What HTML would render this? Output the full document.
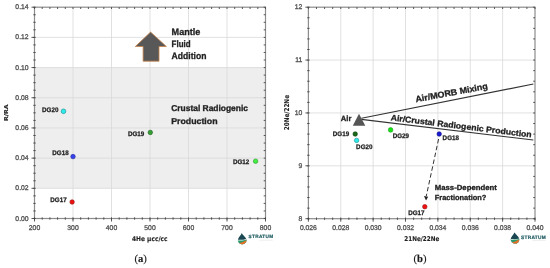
<!DOCTYPE html>
<html><head><meta charset="utf-8"><style>
html,body{margin:0;padding:0;background:#fff;width:550px;height:268px;overflow:hidden}
svg{display:block;text-rendering:geometricPrecision}
.tl{font-family:"Liberation Sans",Arial,sans-serif;font-size:6.8px;fill:#555;stroke:#555;stroke-width:0.3px}
.at{font-family:"Liberation Sans",Arial,sans-serif;font-size:6.8px;font-weight:bold;fill:#222;stroke:#222;stroke-width:0.2px}
.at2{font-family:"DejaVu Sans","Liberation Sans",sans-serif;font-size:6.6px;font-weight:bold;fill:#222;stroke:#222;stroke-width:0.1px}
.dg{font-family:"Liberation Sans",Arial,sans-serif;font-size:6.6px;font-weight:bold;fill:#222;stroke:#222;stroke-width:0.25px}
.an{font-family:"Liberation Sans",Arial,sans-serif;font-weight:bold;fill:#222;stroke:#222;stroke-width:0.3px}
.cap{font-family:"Liberation Serif","Times New Roman",serif;font-size:10.6px;fill:#1a1a1a;stroke:#1a1a1a;stroke-width:0.15px}
</style></head><body>
<svg width="550" height="268" viewBox="0 0 550 268">
<rect x="34.5" y="67.57" width="231" height="120.74" fill="#eeeeee"/>
<line x1="73" y1="7.2" x2="73" y2="218.5" stroke="#d9d9d9" stroke-width="0.8"/>
<line x1="111.5" y1="7.2" x2="111.5" y2="218.5" stroke="#d9d9d9" stroke-width="0.8"/>
<line x1="150" y1="7.2" x2="150" y2="218.5" stroke="#d9d9d9" stroke-width="0.8"/>
<line x1="188.5" y1="7.2" x2="188.5" y2="218.5" stroke="#d9d9d9" stroke-width="0.8"/>
<line x1="227" y1="7.2" x2="227" y2="218.5" stroke="#d9d9d9" stroke-width="0.8"/>
<line x1="34.5" y1="188.31" x2="265.5" y2="188.31" stroke="#d9d9d9" stroke-width="0.8"/>
<line x1="34.5" y1="158.13" x2="265.5" y2="158.13" stroke="#d9d9d9" stroke-width="0.8"/>
<line x1="34.5" y1="127.94" x2="265.5" y2="127.94" stroke="#d9d9d9" stroke-width="0.8"/>
<line x1="34.5" y1="97.76" x2="265.5" y2="97.76" stroke="#d9d9d9" stroke-width="0.8"/>
<line x1="34.5" y1="67.57" x2="265.5" y2="67.57" stroke="#d9d9d9" stroke-width="0.8"/>
<line x1="34.5" y1="37.39" x2="265.5" y2="37.39" stroke="#d9d9d9" stroke-width="0.8"/>
<rect x="34.5" y="7.2" width="231" height="211.3" fill="none" stroke="#8c8c8c" stroke-width="1.2"/>
<path d="M34.5 217.3v2.4M34.5 7.2v1.8M42.2 217.3v2.4M42.2 7.2v1.8M49.9 217.3v2.4M49.9 7.2v1.8M57.6 217.3v2.4M57.6 7.2v1.8M65.3 217.3v2.4M65.3 7.2v1.8M73 217.3v2.4M73 7.2v1.8M80.7 217.3v2.4M80.7 7.2v1.8M88.4 217.3v2.4M88.4 7.2v1.8M96.1 217.3v2.4M96.1 7.2v1.8M103.8 217.3v2.4M103.8 7.2v1.8M111.5 217.3v2.4M111.5 7.2v1.8M119.2 217.3v2.4M119.2 7.2v1.8M126.9 217.3v2.4M126.9 7.2v1.8M134.6 217.3v2.4M134.6 7.2v1.8M142.3 217.3v2.4M142.3 7.2v1.8M150 217.3v2.4M150 7.2v1.8M157.7 217.3v2.4M157.7 7.2v1.8M165.4 217.3v2.4M165.4 7.2v1.8M173.1 217.3v2.4M173.1 7.2v1.8M180.8 217.3v2.4M180.8 7.2v1.8M188.5 217.3v2.4M188.5 7.2v1.8M196.2 217.3v2.4M196.2 7.2v1.8M203.9 217.3v2.4M203.9 7.2v1.8M211.6 217.3v2.4M211.6 7.2v1.8M219.3 217.3v2.4M219.3 7.2v1.8M227 217.3v2.4M227 7.2v1.8M234.7 217.3v2.4M234.7 7.2v1.8M242.4 217.3v2.4M242.4 7.2v1.8M250.1 217.3v2.4M250.1 7.2v1.8M257.8 217.3v2.4M257.8 7.2v1.8M265.5 217.3v2.4M265.5 7.2v1.8M33.3 218.5h2.4M265.5 218.5h-1.8M33.3 210.95h2.4M265.5 210.95h-1.8M33.3 203.41h2.4M265.5 203.41h-1.8M33.3 195.86h2.4M265.5 195.86h-1.8M33.3 188.31h2.4M265.5 188.31h-1.8M33.3 180.77h2.4M265.5 180.77h-1.8M33.3 173.22h2.4M265.5 173.22h-1.8M33.3 165.68h2.4M265.5 165.68h-1.8M33.3 158.13h2.4M265.5 158.13h-1.8M33.3 150.58h2.4M265.5 150.58h-1.8M33.3 143.04h2.4M265.5 143.04h-1.8M33.3 135.49h2.4M265.5 135.49h-1.8M33.3 127.94h2.4M265.5 127.94h-1.8M33.3 120.4h2.4M265.5 120.4h-1.8M33.3 112.85h2.4M265.5 112.85h-1.8M33.3 105.3h2.4M265.5 105.3h-1.8M33.3 97.76h2.4M265.5 97.76h-1.8M33.3 90.21h2.4M265.5 90.21h-1.8M33.3 82.66h2.4M265.5 82.66h-1.8M33.3 75.12h2.4M265.5 75.12h-1.8M33.3 67.57h2.4M265.5 67.57h-1.8M33.3 60.03h2.4M265.5 60.03h-1.8M33.3 52.48h2.4M265.5 52.48h-1.8M33.3 44.93h2.4M265.5 44.93h-1.8M33.3 37.39h2.4M265.5 37.39h-1.8M33.3 29.84h2.4M265.5 29.84h-1.8M33.3 22.29h2.4M265.5 22.29h-1.8M33.3 14.75h2.4M265.5 14.75h-1.8M33.3 7.2h2.4M265.5 7.2h-1.8M73 218.5v3M111.5 218.5v3M150 218.5v3M188.5 218.5v3M227 218.5v3M34.5 218.5v3M265.5 218.5v3M34.5 188.31h-3M34.5 158.13h-3M34.5 127.94h-3M34.5 97.76h-3M34.5 67.57h-3M34.5 37.39h-3M34.5 7.2h-3M34.5 218.5h-3" stroke="#444" stroke-width="0.9" fill="none"/>
<line x1="340.77" y1="7.2" x2="340.77" y2="218.7" stroke="#d9d9d9" stroke-width="0.8"/>
<line x1="373.14" y1="7.2" x2="373.14" y2="218.7" stroke="#d9d9d9" stroke-width="0.8"/>
<line x1="405.51" y1="7.2" x2="405.51" y2="218.7" stroke="#d9d9d9" stroke-width="0.8"/>
<line x1="437.89" y1="7.2" x2="437.89" y2="218.7" stroke="#d9d9d9" stroke-width="0.8"/>
<line x1="470.26" y1="7.2" x2="470.26" y2="218.7" stroke="#d9d9d9" stroke-width="0.8"/>
<line x1="502.63" y1="7.2" x2="502.63" y2="218.7" stroke="#d9d9d9" stroke-width="0.8"/>
<line x1="308.4" y1="165.82" x2="535" y2="165.82" stroke="#d9d9d9" stroke-width="0.8"/>
<line x1="308.4" y1="112.95" x2="535" y2="112.95" stroke="#d9d9d9" stroke-width="0.8"/>
<line x1="308.4" y1="60.07" x2="535" y2="60.07" stroke="#d9d9d9" stroke-width="0.8"/>
<rect x="308.4" y="7.2" width="226.6" height="211.5" fill="none" stroke="#8c8c8c" stroke-width="1.2"/>
<path d="M308.4 217.5v2.4M308.4 7.2v1.8M316.49 217.5v2.4M316.49 7.2v1.8M324.59 217.5v2.4M324.59 7.2v1.8M332.68 217.5v2.4M332.68 7.2v1.8M340.77 217.5v2.4M340.77 7.2v1.8M348.86 217.5v2.4M348.86 7.2v1.8M356.96 217.5v2.4M356.96 7.2v1.8M365.05 217.5v2.4M365.05 7.2v1.8M373.14 217.5v2.4M373.14 7.2v1.8M381.24 217.5v2.4M381.24 7.2v1.8M389.33 217.5v2.4M389.33 7.2v1.8M397.42 217.5v2.4M397.42 7.2v1.8M405.51 217.5v2.4M405.51 7.2v1.8M413.61 217.5v2.4M413.61 7.2v1.8M421.7 217.5v2.4M421.7 7.2v1.8M429.79 217.5v2.4M429.79 7.2v1.8M437.89 217.5v2.4M437.89 7.2v1.8M445.98 217.5v2.4M445.98 7.2v1.8M454.07 217.5v2.4M454.07 7.2v1.8M462.16 217.5v2.4M462.16 7.2v1.8M470.26 217.5v2.4M470.26 7.2v1.8M478.35 217.5v2.4M478.35 7.2v1.8M486.44 217.5v2.4M486.44 7.2v1.8M494.54 217.5v2.4M494.54 7.2v1.8M502.63 217.5v2.4M502.63 7.2v1.8M510.72 217.5v2.4M510.72 7.2v1.8M518.81 217.5v2.4M518.81 7.2v1.8M526.91 217.5v2.4M526.91 7.2v1.8M535 217.5v2.4M535 7.2v1.8M307.2 218.7h2.4M535 218.7h-1.8M307.2 208.13h2.4M535 208.13h-1.8M307.2 197.55h2.4M535 197.55h-1.8M307.2 186.98h2.4M535 186.98h-1.8M307.2 176.4h2.4M535 176.4h-1.8M307.2 165.82h2.4M535 165.82h-1.8M307.2 155.25h2.4M535 155.25h-1.8M307.2 144.67h2.4M535 144.67h-1.8M307.2 134.1h2.4M535 134.1h-1.8M307.2 123.52h2.4M535 123.52h-1.8M307.2 112.95h2.4M535 112.95h-1.8M307.2 102.38h2.4M535 102.38h-1.8M307.2 91.8h2.4M535 91.8h-1.8M307.2 81.22h2.4M535 81.22h-1.8M307.2 70.65h2.4M535 70.65h-1.8M307.2 60.07h2.4M535 60.07h-1.8M307.2 49.5h2.4M535 49.5h-1.8M307.2 38.92h2.4M535 38.92h-1.8M307.2 28.35h2.4M535 28.35h-1.8M307.2 17.77h2.4M535 17.77h-1.8M307.2 7.2h2.4M535 7.2h-1.8M340.77 218.7v3M373.14 218.7v3M405.51 218.7v3M437.89 218.7v3M470.26 218.7v3M502.63 218.7v3M308.4 218.7v3M535 218.7v3M308.4 165.82h-3M308.4 112.95h-3M308.4 60.07h-3M308.4 7.2h-3M308.4 218.7h-3" stroke="#444" stroke-width="0.9" fill="none"/>
<text x="28.6" y="220.6" text-anchor="end" class="tl">0.00</text>
<text x="28.6" y="190.41" text-anchor="end" class="tl">0.02</text>
<text x="28.6" y="160.23" text-anchor="end" class="tl">0.04</text>
<text x="28.6" y="130.04" text-anchor="end" class="tl">0.06</text>
<text x="28.6" y="99.86" text-anchor="end" class="tl">0.08</text>
<text x="28.6" y="69.67" text-anchor="end" class="tl">0.10</text>
<text x="28.6" y="39.49" text-anchor="end" class="tl">0.12</text>
<text x="28.6" y="8.5" text-anchor="end" class="tl">0.14</text>
<text x="34.5" y="230" text-anchor="middle" class="tl">200</text>
<text x="73" y="230" text-anchor="middle" class="tl">300</text>
<text x="111.5" y="230" text-anchor="middle" class="tl">400</text>
<text x="150" y="230" text-anchor="middle" class="tl">500</text>
<text x="188.5" y="230" text-anchor="middle" class="tl">600</text>
<text x="227" y="230" text-anchor="middle" class="tl">700</text>
<text x="265.5" y="230" text-anchor="middle" class="tl">800</text>
<text x="302.4" y="220.5" text-anchor="end" class="tl">8</text>
<text x="302.4" y="167.62" text-anchor="end" class="tl">9</text>
<text x="302.4" y="114.75" text-anchor="end" class="tl">10</text>
<text x="302.4" y="61.87" text-anchor="end" class="tl">11</text>
<text x="302.4" y="9" text-anchor="end" class="tl">12</text>
<text x="308.4" y="230" text-anchor="middle" class="tl">0.026</text>
<text x="340.77" y="230" text-anchor="middle" class="tl">0.028</text>
<text x="373.14" y="230" text-anchor="middle" class="tl">0.030</text>
<text x="405.51" y="230" text-anchor="middle" class="tl">0.032</text>
<text x="437.89" y="230" text-anchor="middle" class="tl">0.034</text>
<text x="470.26" y="230" text-anchor="middle" class="tl">0.036</text>
<text x="502.63" y="230" text-anchor="middle" class="tl">0.038</text>
<text x="535" y="230" text-anchor="middle" class="tl">0.040</text>
<!-- axis titles -->
<text class="at2" transform="translate(8.1,121) rotate(-90)" textLength="16.6" lengthAdjust="spacingAndGlyphs" style="font-size:5.4px">R/RA</text>
<text class="at2" x="132" y="240.8" textLength="35.6" lengthAdjust="spacingAndGlyphs">4He µcc/cc</text>
<text class="at2" transform="translate(288.6,130.2) rotate(-90)" textLength="35.2" lengthAdjust="spacingAndGlyphs">20Ne/22Ne</text>
<text class="at2" x="404.3" y="240.8" textLength="35" lengthAdjust="spacingAndGlyphs">21Ne/22Ne</text>
<!-- captions -->
<text class="cap" x="140.6" y="261.6" text-anchor="middle">(<tspan font-weight="bold">a</tspan>)</text>
<text class="cap" x="420" y="261.6" text-anchor="middle">(<tspan font-weight="bold">b</tspan>)</text>
<!-- left annotations -->
<path d="M150.6 32.1 L166.4 46.5 L159 46.5 L159 61.2 L143.1 61.2 L143.1 46.5 L135.3 46.5 Z" fill="#585858" stroke="#c8844a" stroke-width="0.8"/>
<text class="an" font-size="9.3" x="171.6" y="35.3" textLength="28.8" lengthAdjust="spacingAndGlyphs">Mantle</text>
<text class="an" font-size="9.3" x="171.6" y="47.1" textLength="19" lengthAdjust="spacingAndGlyphs">Fluid</text>
<text class="an" font-size="9.3" x="171.6" y="59.2" textLength="34.8" lengthAdjust="spacingAndGlyphs">Addition</text>
<text class="an" font-size="8.5" x="171.2" y="111" textLength="76.8" lengthAdjust="spacingAndGlyphs">Crustal Radiogenic</text>
<text class="an" font-size="8.5" x="171.2" y="124.1" textLength="46.3" lengthAdjust="spacingAndGlyphs">Production</text>
<!-- left markers -->
<g stroke-width="0.6">
<circle cx="63.5" cy="111.3" r="2.35" fill="#2eeaea" stroke="#1a8f8f"/>
<circle cx="150.3" cy="132.4" r="2.25" fill="#33a033" stroke="#1d5e1d"/>
<circle cx="73" cy="156.6" r="2.25" fill="#3444ee" stroke="#22229a"/>
<circle cx="255.6" cy="161.2" r="2.25" fill="#44ee44" stroke="#2a9a2a"/>
<circle cx="72.1" cy="202" r="2.25" fill="#ee1111" stroke="#991111"/>
</g>
<text class="dg" x="42" y="111.8" textLength="16.4" lengthAdjust="spacingAndGlyphs">DG20</text>
<text class="dg" x="127.9" y="136.3" textLength="16.4" lengthAdjust="spacingAndGlyphs">DG19</text>
<text class="dg" x="52.3" y="154.6" textLength="16.4" lengthAdjust="spacingAndGlyphs">DG18</text>
<text class="dg" x="232.9" y="163.7" textLength="16.4" lengthAdjust="spacingAndGlyphs">DG12</text>
<text class="dg" x="50.3" y="202" textLength="16.4" lengthAdjust="spacingAndGlyphs">DG17</text>
<!-- right annotations -->
<line x1="361.5" y1="118.3" x2="533.4" y2="84" stroke="#333" stroke-width="1.1"/>
<line x1="361.3" y1="119.4" x2="533.3" y2="140" stroke="#333" stroke-width="1.1"/>
<path d="M359 113.7 L365.3 125.8 L352.8 125.8 Z" fill="#555"/>
<text class="an" font-size="7.6" x="340.8" y="121.1">Air</text>
<text class="an" font-size="8.6" transform="translate(415.9,102.3) rotate(-10.6)" textLength="73.5" lengthAdjust="spacingAndGlyphs">Air/MORB Mixing</text>
<text class="an" font-size="8.2" transform="translate(390.4,120.2) rotate(7)" textLength="142" lengthAdjust="spacingAndGlyphs">Air/Crustal Radiogenic Production</text>
<text class="an" font-size="7.4" x="434.8" y="190" textLength="62" lengthAdjust="spacingAndGlyphs">Mass-Dependent</text>
<text class="an" font-size="7.4" x="434.8" y="200.2" textLength="51.6" lengthAdjust="spacingAndGlyphs">Fractionation?</text>
<line x1="438.6" y1="139" x2="426.3" y2="196" stroke="#333" stroke-width="1" stroke-dasharray="4.5 2.5"/>
<path d="M426 200.4 L424 196 L428.2 196.7 Z" fill="#222"/>
<g stroke-width="0.6">
<circle cx="355.2" cy="134" r="2.25" fill="#1a6a1a" stroke="#0f400f"/>
<circle cx="356.6" cy="140.4" r="2.25" fill="#2eeaea" stroke="#1a8f8f"/>
<circle cx="390.6" cy="129.9" r="2.3" fill="#14e614" stroke="#1a9a1a"/>
<circle cx="439.2" cy="134" r="2.25" fill="#1a1ad0" stroke="#10108a"/>
<circle cx="424.8" cy="206.7" r="2.25" fill="#ee1111" stroke="#991111"/>
</g>
<text class="dg" x="332.8" y="136.3" textLength="16.4" lengthAdjust="spacingAndGlyphs">DG19</text>
<text class="dg" x="356.1" y="148.6" textLength="16.4" lengthAdjust="spacingAndGlyphs">DG20</text>
<text class="dg" x="392.7" y="138.4" textLength="16.4" lengthAdjust="spacingAndGlyphs">DG29</text>
<text class="dg" x="442.6" y="139.9" textLength="16.4" lengthAdjust="spacingAndGlyphs">DG18</text>
<text class="dg" x="408.2" y="214.6" textLength="16.4" lengthAdjust="spacingAndGlyphs">DG17</text>
<!-- logos -->
<defs><clipPath id="dropclip"><path d="M241.8 233 C241 235.4 237.9 237.5 237.9 240.3 C237.9 242.6 239.8 244.3 242.2 244.3 C244.6 244.3 246.5 242.5 246.5 240.1 C246.5 237.4 242.7 235.4 241.8 233 Z"/></clipPath></defs>
<g>
<g clip-path="url(#dropclip)">
<rect x="236" y="232" width="12" height="14" fill="#1b4753"/>
<path d="M236 239.9 C238.5 239.4 241 240.2 243.5 239.7 C245 239.4 246 239.2 248 239 L248 246 L236 246 Z" fill="#f4f8f6"/>
<path d="M236 240.6 C238.5 240.1 241 240.9 243.5 240.3 C245 240 246 239.8 248 239.7 L248 246 L236 246 Z" fill="#2c9a6c"/>
<path d="M236 243.8 C238.5 243.4 241.5 242.4 243.8 241.4 C245.2 240.8 246.3 240.3 248 240.1 L248 246 L236 246 Z" fill="#e46f26"/>
</g>
</g>
<g transform="translate(272.8,-0.7)">
<g clip-path="url(#dropclip)">
<rect x="236" y="232" width="12" height="14" fill="#1b4753"/>
<path d="M236 239.9 C238.5 239.4 241 240.2 243.5 239.7 C245 239.4 246 239.2 248 239 L248 246 L236 246 Z" fill="#f4f8f6"/>
<path d="M236 240.6 C238.5 240.1 241 240.9 243.5 240.3 C245 240 246 239.8 248 239.7 L248 246 L236 246 Z" fill="#2c9a6c"/>
<path d="M236 243.8 C238.5 243.4 241.5 242.4 243.8 241.4 C245.2 240.8 246.3 240.3 248 240.1 L248 246 L236 246 Z" fill="#e46f26"/>
</g>
</g>
<text x="248.6" y="238.4" font-family="Liberation Sans,Arial,sans-serif" font-weight="bold" font-size="4.7" fill="#215c62" stroke="#215c62" stroke-width="0.2" textLength="24.6" lengthAdjust="spacing">STRATUM</text>
<line x1="259.5" y1="240.2" x2="272.7" y2="240.2" stroke="#dadada" stroke-width="0.5"/>
<text x="520.9" y="238.7" font-family="Liberation Sans,Arial,sans-serif" font-weight="bold" font-size="4.8" fill="#215c62" stroke="#215c62" stroke-width="0.2" textLength="24.9" lengthAdjust="spacing">STRATUM</text>
<line x1="532.5" y1="240.4" x2="545.5" y2="240.4" stroke="#dadada" stroke-width="0.5"/>

</svg>
</body></html>
